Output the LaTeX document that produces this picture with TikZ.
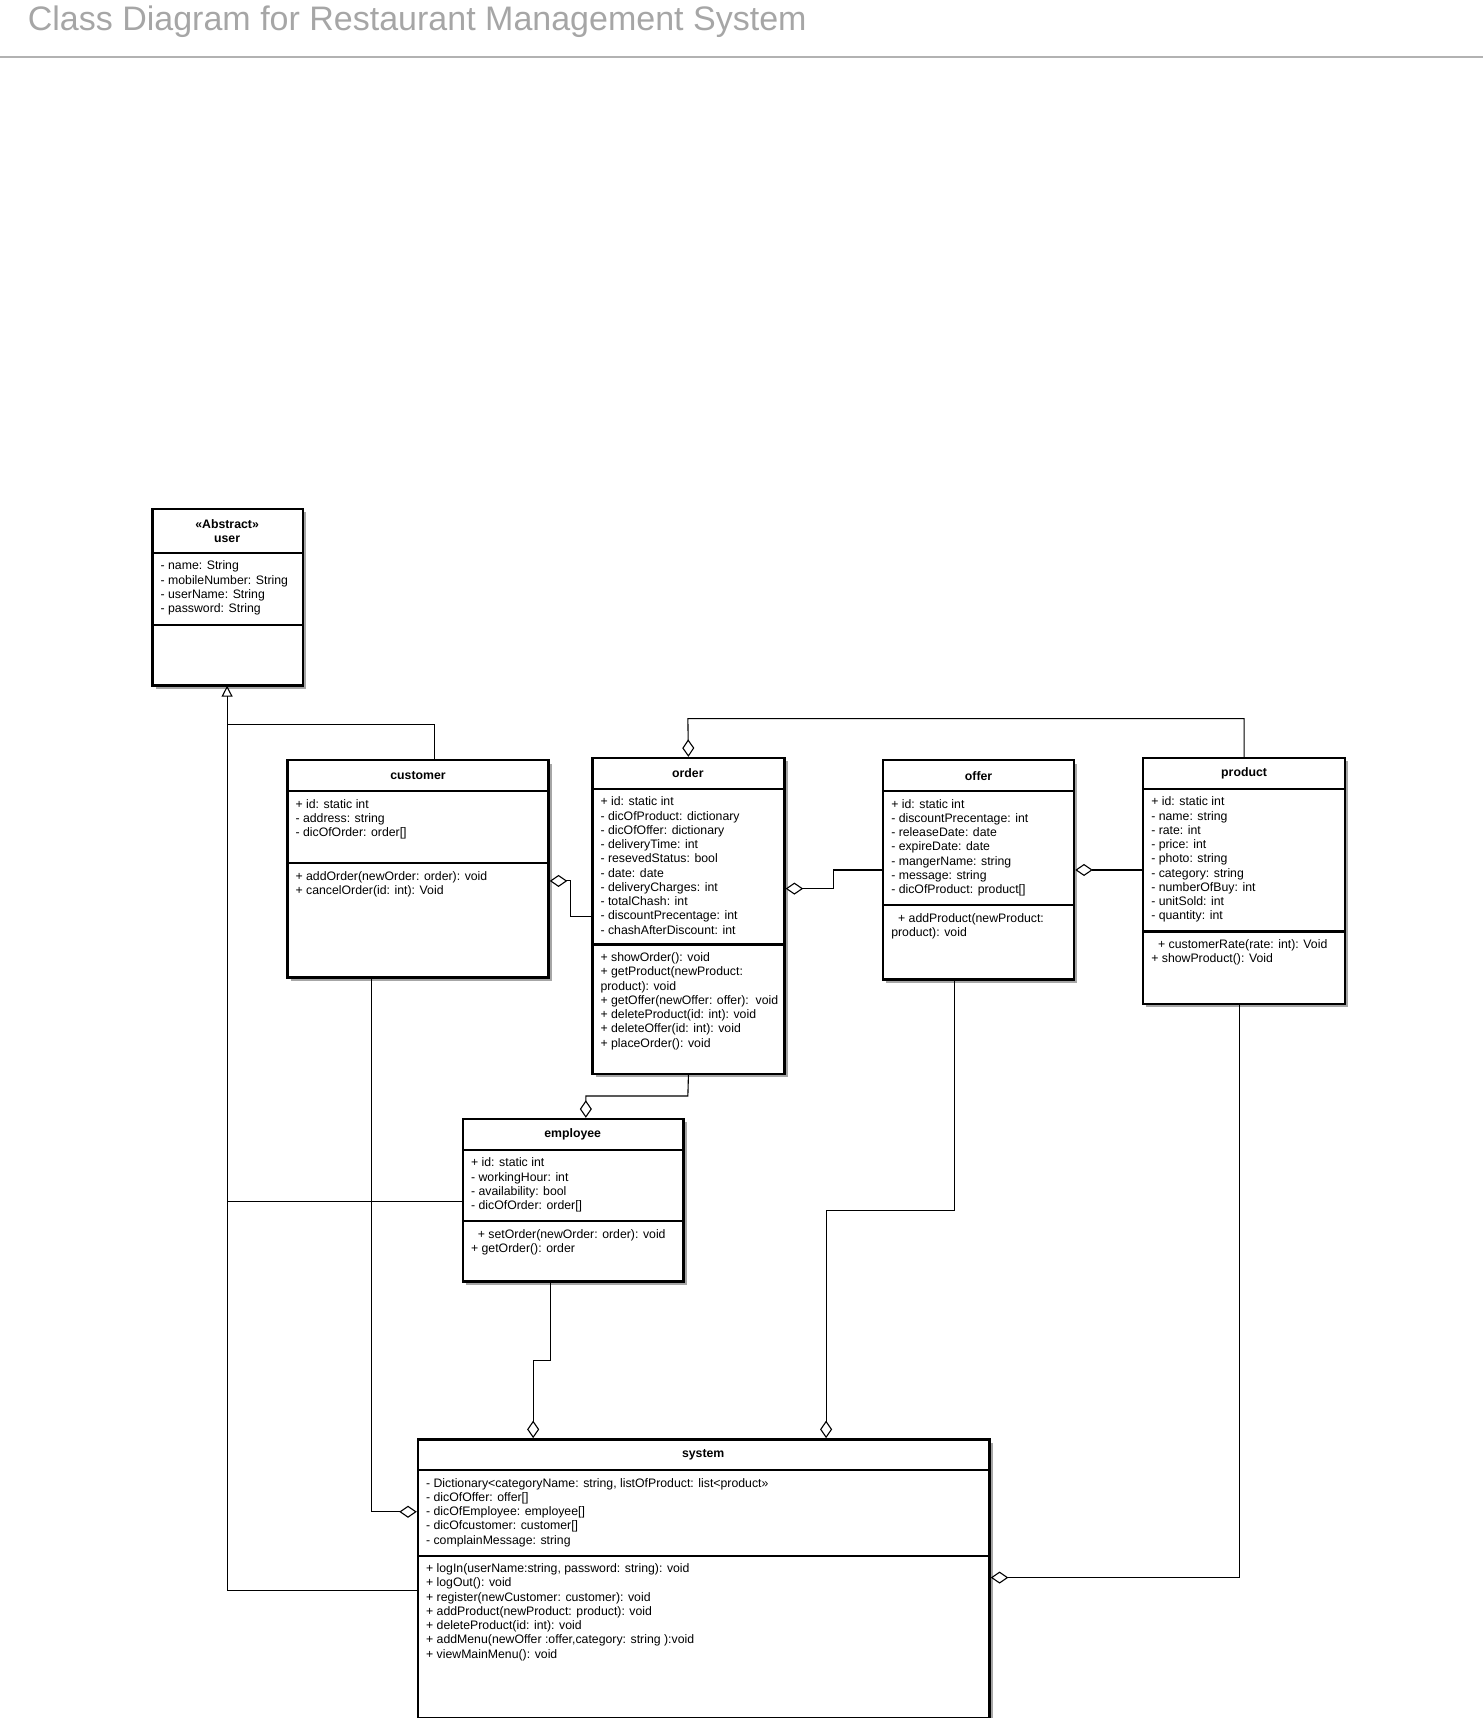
\documentclass[tikz,border=0pt]{standalone}
\usepackage{fontspec}
\setmainfont{Liberation Sans}
\usetikzlibrary{fit,arrows.meta}
\begin{document}
\begin{tikzpicture}[x=0.5pt,y=-0.5pt,
  box/.style={draw,line width=1.1pt,fill=white,inner sep=0pt},
  shd/.style={fill=black!35},
  hd/.style={font=\bfseries\fontsize{5.6}{6.5}\selectfont,inner sep=0pt},
  txt/.style={font=\fontsize{5.6}{6.5}\selectfont,align=left,inner sep=0pt,anchor=north west},
  conn/.style={line width=0.5pt},
  agg/.style={conn,{Diamond[open,length=8pt,width=5.5pt]}-},
  gen/.style={conn,{Triangle[open,length=5pt,width=5pt]}-}]
\useasboundingbox (0,0) rectangle (1352,1566);
\node[anchor=west,text=black!35,font=\fontsize{15.5}{18}\selectfont,inner sep=0pt] (title) at (25,20) {Class Diagram for Restaurant Management System};
\draw[black!30,line width=1pt] (0,52) -- (1352,52);

% user
\fill[shd] (142,467) rectangle (279,628);
\node[box,fit={(139,464)(276,625)}] (user) {};
\draw[line width=1pt] (139,504) -- (276,504) (139,570) -- (276,570);
\node[hd,align=center] at (207,484) {<<Abstract>>\\user};
\node[txt] at (146,511) {- name: String\\- mobileNumber: String\\- userName: String\\- password: String};

% customer
\fill[shd] (265,696) rectangle (503,894);
\node[box,fit={(262,693)(500,891)}] (cust) {};
\draw[line width=1pt] (262,721) -- (500,721) (262,787) -- (500,787);
\node[hd] at (381,707) {customer};
\node[txt] at (269,728) {+ id: static int\\- address: string\\- dicOfOrder: order[]};
\node[txt] at (269,794) {+ addOrder(newOrder: order): void\\+ cancelOrder(id: int): Void};

% order
\fill[shd] (543,694) rectangle (718,982);
\node[box,fit={(540,691)(715,979)}] (order) {};
\draw[line width=1pt] (540,719) -- (715,719) (540,861) -- (715,861);
\node[hd] at (627,705) {order};
\node[txt] at (547,726) {+ id: static int\\- dicOfProduct: dictionary\\- dicOfOffer: dictionary\\- deliveryTime: int\\- resevedStatus: bool\\- date: date\\- deliveryCharges: int\\- totalChash: int\\- discountPrecentage: int\\- chashAfterDiscount: int};
\node[txt] at (547,868) {+ showOrder(): void\\+ getProduct(newProduct:\\product): void\\+ getOffer(newOffer: offer):\ \ void\\+ deleteProduct(id: int): void\\+ deleteOffer(id: int): void\\+ placeOrder(): void};

% offer
\fill[shd] (808,696) rectangle (982,896);
\node[box,fit={(805,693)(979,893)}] (offer) {};
\draw[line width=1pt] (805,721) -- (979,721) (805,825) -- (979,825);
\node[hd] at (892,707) {offer};
\node[txt] at (812,728) {+ id: static int\\- discountPrecentage: int\\- releaseDate: date\\- expireDate: date\\- mangerName: string\\- message: string\\- dicOfProduct: product[]};
\node[txt] at (812,832) {\ \ + addProduct(newProduct:\\product): void};

% product
\fill[shd] (1045,694) rectangle (1229,918);
\node[box,fit={(1042,691)(1226,915)}] (prod) {};
\draw[line width=1pt] (1042,719) -- (1226,719) (1042,849) -- (1226,849);
\node[hd] at (1134,705) {product};
\node[txt] at (1049,726) {+ id: static int\\- name: string\\- rate: int\\- price: int\\- photo: string\\- category: string\\- numberOfBuy: int\\- unitSold: int\\- quantity: int};
\node[txt] at (1049,856) {\ \ + customerRate(rate: int): Void\\+ showProduct(): Void};

% employee
\fill[shd] (425,1023) rectangle (626,1171);
\node[box,fit={(422,1020)(623,1168)}] (emp) {};
\draw[line width=1pt] (422,1048) -- (623,1048) (422,1113) -- (623,1113);
\node[hd] at (522,1034) {employee};
\node[txt] at (429,1055) {+ id: static int\\- workingHour: int\\- availability: bool\\- dicOfOrder: order[]};
\node[txt] at (429,1120) {\ \ + setOrder(newOrder: order): void\\+ getOrder(): order};

% system
\fill[shd] (384,1315) rectangle (905,1569);
\node[box,fit={(381,1312)(902,1566)}] (sys) {};
\draw[line width=1pt] (381,1340) -- (902,1340) (381,1418) -- (902,1418);
\node[hd] at (641,1326) {system};
\node[txt] at (388,1347) {- Dictionary<categoryName: string, listOfProduct: list<product>>\\- dicOfOffer: offer[]\\- dicOfEmployee: employee[]\\- dicOfcustomer: customer[]\\- complainMessage: string};
\node[txt] at (388,1425) {+ logIn(userName:string, password: string): void\\+ logOut(): void\\+ register(newCustomer: customer): void\\+ addProduct(newProduct: product): void\\+ deleteProduct(id: int): void\\+ addMenu(newOffer :offer,category: string ):void\\+ viewMainMenu(): void};

% connectors
\coordinate (g1) at (207,625);
\draw[gen] (g1) -- (207,1450) -- (sys.west |- 0,1450);
\draw[conn] (207,660) -- (396,660) -- (cust.north -| 396,0);
\draw[conn] (207,1095) -- (emp.west |- 0,1095);
\draw[agg] (order.north) -- (627,655) -- (1134,655) -- (prod.north);
\draw[agg] (cust.east |- 0,803) -- (520,803) -- (520,835) -- (order.west |- 0,835);
\draw[agg] (order.east |- 0,810) -- (760,810) -- (760,793) -- (offer.west |- 0,793);
\draw[agg] (offer.east |- 0,793) -- (prod.west |- 0,793);
\draw[agg] (emp.north -| 534,0) -- (534,999) -- (627,999) -- (order.south);
\draw[agg] (sys.north -| 486,0) -- (486,1240) -- (502,1240) -- (emp.south -| 502,0);
\draw[agg] (sys.north -| 753,0) -- (753,1103) -- (870,1103) -- (offer.south -| 870,0);
\draw[agg] (sys.west |- 0,1378) -- (339,1378) -- (cust.south -| 339,0);
\draw[agg] (sys.east |- 0,1438) -- (1130,1438) -- (prod.south -| 1130,0);
\end{tikzpicture}
\end{document}
